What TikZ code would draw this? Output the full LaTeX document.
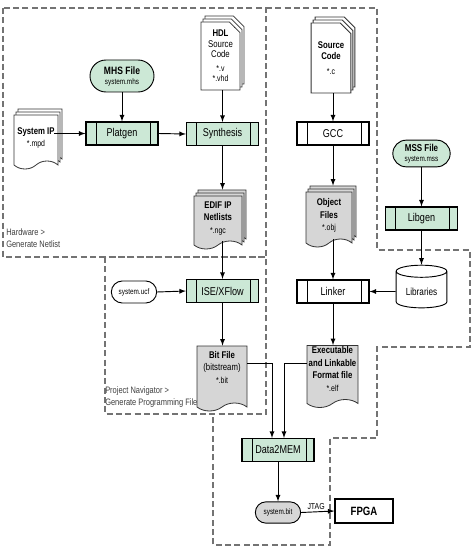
\documentclass[tikz,border=0pt]{standalone}
\usepackage{fontspec}
\setmainfont[FakeStretch=0.8]{Liberation Sans}
\usepackage{tikz}
\usetikzlibrary{shapes.misc}
\usetikzlibrary{shapes.symbols}
\usetikzlibrary{shapes.geometric}
\definecolor{procgreen}{RGB}{204,232,214}
\definecolor{docgray}{RGB}{214,214,214}
\newcommand{\fileext}[1]{{\fontsize{6.5}{8}\selectfont #1}}

\begin{document}
\begin{tikzpicture}[x=0.75pt, y=-0.75pt,
  proc/.style={rectangle, draw, line width=0.9pt, minimum width=54pt, minimum height=17.25pt,
    font=\fontsize{8.5}{10}\selectfont,
    path picture={\draw[line width=0.6pt]
      ([xshift=7.5pt]path picture bounding box.north west) -- ([xshift=7.5pt]path picture bounding box.south west)
      ([xshift=-6pt]path picture bounding box.north east) -- ([xshift=-6pt]path picture bounding box.south east);}},
  term/.style={rounded rectangle, draw, line width=0.7pt, inner sep=1pt, align=center,
    font=\fontsize{6}{7.5}\selectfont},
  wavedoc/.style={tape, tape bend top=none, tape bend bottom=in and out, tape bend height=6pt,
    draw=black!80, line width=0.6pt, align=center, inner sep=1pt, font=\fontsize{7.3}{9.4}\selectfont},
  folddoc/.style={chamfered rectangle, chamfered rectangle corners=north east, chamfered rectangle sep=4pt,
    draw=black!80, fill=white, line width=0.6pt, align=center, inner sep=1pt, font=\fontsize{7.3}{8}\selectfont,
    path picture={\draw[line width=0.5pt] ([xshift=-4pt]path picture bounding box.north east)
      |- ([yshift=-4pt]path picture bounding box.north east);}},
  stack/.style={
    preaction={fill=#1, draw=black!80, line width=0.6pt, transform canvas={shift={(3pt,4.5pt)}}},
    preaction={fill=#1, draw=black!80, line width=0.6pt, transform canvas={shift={(1.5pt,2.25pt)}}}},
  conn/.style={-latex, line width=0.7pt},
  region/.style={draw=black!55, dash pattern=on 4.5pt off 2.5pt, line width=0.8pt},
  regionlabel/.style={align=left, inner sep=0pt, text=black!75, font=\fontsize{7}{9}\selectfont}]
  \fill[white] (0,0) rectangle (474,552);
  \useasboundingbox (0,0) rectangle (474,552);

  \draw[region] (3,8) rectangle (266,257);
  \draw[region] (105,257) rectangle (266,414);
  \draw[region] (266,8) -- (377,8) -- (377,250) -- (470,250) -- (470,347) -- (377,347)
    -- (377,438) -- (330,438) -- (330,545) -- (213,545) -- (213,414);
  \node[regionlabel, anchor=north west] (hwlabel) at (6,228) {Hardware >\\Generate Netlist};
  \node[regionlabel, anchor=north west] (pnlabel) at (105,386) {Project Navigator >\\Generate Programming File};

  \foreach \n/\x/\y/\t/\c in {platgen/122/133.5/Platgen/procgreen, synth/222.5/134/Synthesis/procgreen,
    ise/222.5/291/{ISE/XFlow}/procgreen, gcc/333/133.5/GCC/white, linker/333/291.5/Linker/white,
    libgen/421.5/218.5/Libgen/procgreen, d2m/278/450/Data2MEM/procgreen}
    \node[proc, fill=\c] (\n) at (\x,\y) {\t};

  \node[term, fill=procgreen, minimum width=50pt, minimum height=24pt] (mhs) at (122,76)
    {\fontsize{8}{9}\selectfont\textbf{MHS File}\\system.mhs};
  \node[term, fill=procgreen, minimum width=45pt, minimum height=20pt] (mss) at (421.5,153.5)
    {\fontsize{7.5}{8.5}\selectfont\textbf{MSS File}\\system.mss};
  \node[term, fill=white, minimum width=36pt, minimum height=16.5pt] (ucf) at (134,292) {system.ucf};
  \node[term, fill=docgray, minimum width=36pt, minimum height=16pt] (sysbit) at (278,512.5) {system.bit};
  \node[draw, line width=0.9pt, minimum width=43.5pt, minimum height=18pt, font=\fontsize{9}{10}\selectfont\bfseries]
    (fpga) at (364,511) {FPGA};
  \node[cylinder, shape border rotate=90, aspect=0.3, draw, line width=0.7pt, fill=white,
    minimum width=38pt, minimum height=32pt, font=\fontsize{7.7}{9}\selectfont] (libs) at (421.5,291.5) {Libraries};

  \node[wavedoc, stack=white, fill=white, minimum width=33pt, minimum height=40.5pt] (sysip) at (36,138)
    {\textbf{System IP}\\\fileext{*.mpd}};
  \node[folddoc, stack=white, minimum width=29.25pt, minimum height=51pt] (hdl) at (220.5,56)
    {\textbf{HDL}\\Source\\Code\\[2pt]\fileext{*.v}\\\fileext{*.vhd}};
  \node[wavedoc, stack=docgray, fill=docgray, minimum width=36pt, minimum height=39.75pt] (edif) at (218,218.5)
    {\textbf{EDIF IP}\\\textbf{Netlists}\\\fileext{*.ngc}};
  \node[wavedoc, fill=docgray, minimum width=37.5pt, minimum height=48.75pt, text depth=11pt] (bit) at (222,374.5)
    {\textbf{Bit File}\\(bitstream)\\\fileext{*.bit}};
  \node[folddoc, stack=white, minimum width=27pt, minimum height=52.5pt] (src) at (331,58)
    {\textbf{Source}\\\textbf{Code}\\[3pt]\fileext{*.c}};
  \node[wavedoc, stack=docgray, fill=docgray, minimum width=34.5pt, minimum height=41.25pt] (obj) at (329,215.5)
    {\textbf{Object}\\\textbf{Files}\\\fileext{*.obj}};
  \node[wavedoc, fill=docgray, minimum width=38.25pt, minimum height=45.75pt, text depth=5pt] (elf) at (332.5,372.5)
    {\textbf{Executable}\\\textbf{and Linkable}\\\textbf{Format file}\\\fileext{*.elf}};

  \draw[conn, shorten <=-3pt] (sysip.east |- platgen.west) -- (platgen.west);
  \draw[conn] (mhs.south) -- (platgen.north);
  \draw[conn] (platgen.east) -- (synth.west);
  \draw[conn] (hdl.south -| synth.north) -- (synth.north);
  \draw[conn, shorten >=4.5pt] (synth.south) -- (synth.south |- edif.north);
  \draw[conn] (edif.south -| ise.north) -- (ise.north);
  \draw[conn] (ucf.east) -- (ise.west);
  \draw[conn] (ise.south) -- (ise.south |- bit.north);
  \draw[conn] (src.south -| gcc.north) -- (gcc.north);
  \draw[conn, shorten >=4.5pt] (gcc.south) -- (gcc.south |- obj.north);
  \draw[conn] (obj.south -| linker.north) -- (linker.north);
  \draw[conn] (mss.south) -- (libgen.north);
  \draw[conn] (libgen.south) -- (libs.north);
  \draw[conn] (libs.west) -- (linker.east);
  \draw[conn] (linker.south) -- (linker.south |- elf.north);
  \draw[conn] ([yshift=8.6pt]bit.east) -| ([xshift=-4.5pt]d2m.north);
  \draw[conn] ([yshift=7pt]elf.west) -| ([xshift=4.5pt]d2m.north);
  \draw[conn] (d2m.south) -- (sysbit.north);
  \draw[conn] (sysbit.east) -- node[above, pos=0.45, inner sep=1pt, font=\fontsize{6.5}{7}\selectfont] (jtag) {JTAG} (fpga.west);
\end{tikzpicture}
\end{document}
